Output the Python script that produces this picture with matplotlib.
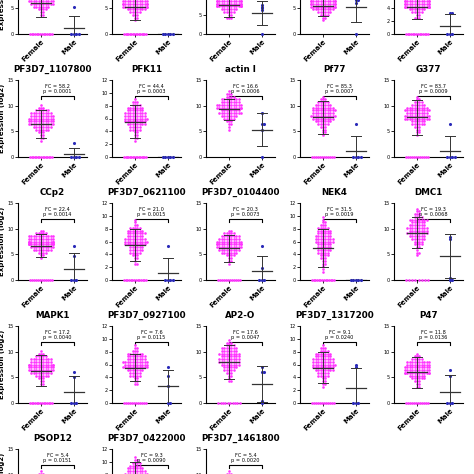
import numpy as np
import matplotlib.pyplot as plt

# panel info, row by row (top row is cut off in the source, no titles visible)
names = ['', '', '', '', '',
         'PF3D7_1107800', 'PFK11', 'actin I', 'Pf77', 'G377',
         'CCp2', 'PF3D7_0621100', 'PF3D7_0104400', 'NEK4', 'DMC1',
         'MAPK1', 'PF3D7_0927100', 'AP2-O', 'PF3D7_1317200', 'P47',
         'PSOP12', 'PF3D7_0422000', 'PF3D7_1461800']
ymax = [15, 15, 20, 15, 12,
        15, 12, 15, 15, 15,
        15, 12, 15, 12, 15,
        15, 12, 15, 12, 15,
        15, 12, 15]
fc = ['', '', '', '', '',
      '58.2', '44.4', '16.6', '85.3', '83.7',
      '22.4', '21.0', '20.3', '31.5', '19.3',
      '17.2', '7.6', '17.6', '9.1', '11.8',
      '5.4', '9.3', '5.4']
pval = ['', '', '', '', '',
        '0.0001', '0.0003', '0.0006', '0.0007', '0.0009',
        '0.0014', '0.0015', '0.0073', '0.0019', '0.0068',
        '0.0040', '0.0115', '0.0047', '0.0240', '0.0136',
        '0.0151', '0.0090', '0.0020']
# female mean / SD lines, centre and spread of the non-zero cloud, number of zeros
f_mean = [6.1, 5.3, 7.5, 5.5, 4.2, 6.4, 5.5, 9.3, 7.7, 7.7,
          6.7, 5.5, 6.2, 5.0, 9.2, 6.3, 5.5, 8.0, 5.5, 6.0, 7.0, 7.0, 7.0]
f_sd = [2.8, 2.6, 3.0, 2.0, 1.8, 2.7, 2.6, 2.0, 3.2, 3.4,
        2.3, 2.5, 2.6, 3.0, 3.0, 3.0, 2.1, 3.3, 2.4, 3.0, 3.0, 3.0, 3.0]
f_center = [6.8, 6.0, 8.0, 5.8, 4.8, 7.0, 6.0, 9.4, 8.3, 8.2,
            7.2, 6.0, 6.8, 5.8, 9.6, 7.0, 6.0, 8.5, 6.0, 6.5, 7.5, 7.5, 7.5]
f_spread = [1.6, 1.6, 2.0, 1.5, 1.2, 1.8, 1.7, 1.9, 2.0, 1.9,
            1.4, 1.8, 1.7, 2.2, 2.4, 1.7, 1.6, 2.2, 1.7, 1.7, 1.8, 1.8, 1.8]
f_zeros = [14, 16, 0, 0, 14, 15, 16, 0, 12, 12,
           12, 14, 12, 14, 8, 14, 12, 10, 12, 12, 12, 12, 12]
male = [[5.5, 0, 0, 0, 0], [0, 0, 0, 0, 0], [7.0, 6.5, 6.0, 7.5, 0], [6.5, 6.0, 6.6, 7.0, 0], [3.2, 3.2, 0, 0, 0],
        [2.7, 0, 0, 0, 0], [0, 0, 0, 0, 0], [8.5, 6.2, 6.4, 5.5, 0], [6.2, 0, 0, 0, 0], [6.2, 0, 0, 0, 0],
        [6.6, 4.8, 0, 0, 0], [5.3, 0, 0, 0, 0], [6.7, 2.2, 0, 0, 0], [0, 0, 0, 0, 0], [8.2, 8.0, 0.3, 0, 0],
        [6.1, 5.0, 0, 0, 0], [5.6, 4.3, 2.6, 0, 0], [7.0, 6.0, 6.0, 0.3, 0], [6.0, 5.6, 0, 0, 0], [6.2, 5.2, 0, 0, 0],
        [5.0, 0, 0, 0, 0], [5.0, 0, 0, 0, 0], [5.0, 0, 0, 0, 0]]
m_mean = [1.1, 0, 5.4, 5.3, 1.3, 0.5, 0, 5.3, 1.2, 1.2,
          2.2, 1.1, 1.8, 0, 4.7, 2.2, 2.6, 3.7, 2.3, 2.2, 1.0, 1.0, 1.0]
m_sd = [2.4, 0, 3.1, 3.0, 1.8, 1.2, 0, 3.2, 2.8, 2.8,
        3.1, 2.4, 2.9, 0, 4.3, 3.1, 2.6, 3.5, 3.1, 3.2, 2.2, 2.2, 2.2]

# shared shape of a female cloud (standard scores typed by eye)
z_shape = [-2.0, -1.7, -1.5, -1.3, -1.2, -1.1, -1.0, -0.9, -0.85, -0.8, -0.7, -0.65,
           -0.6, -0.5, -0.45, -0.4, -0.35, -0.3, -0.25, -0.2, -0.15, -0.1, -0.05, 0.0,
           0.0, 0.05, 0.1, 0.15, 0.2, 0.25, 0.3, 0.35, 0.4, 0.45, 0.5, 0.55, 0.6, 0.65,
           0.7, 0.75, 0.8, 0.85, 0.9, 0.95, 1.0, 1.05, 1.1, 1.2, 1.3, 1.4, 1.5, 1.6, 1.8,
           -1.8, -0.55, 0.3, 0.1, -0.2, 0.6, 1.0, -0.75, 0.45, 0.2, -0.35,
           -1.4, -0.95, -0.6, -0.3, 0.0, 0.35, 0.7, 1.15, -0.1, 0.5, 0.9, -0.5,
           0.25, -0.25, 0.8, 1.25, -1.05, 0.05, 0.4, -0.4]

FEM = '#ff33ff'
MAL = '#2a2ab8'
BAR = '#333333'


def swarm(vals, x0, binw, step, maxw):
    vals = np.asarray(vals, float)
    xs = np.zeros_like(vals)
    bins = np.round(vals / binw)
    for b in np.unique(bins):
        idx = np.where(bins == b)[0]
        for k, i in enumerate(idx):
            off = ((k + 1) // 2) * step * (1 if k % 2 else -1)
            xs[i] = x0 + np.clip(off, -maxw, maxw)
        vals[idx] = b * binw
    return xs, vals


fig = plt.figure(figsize=(4.74, 4.74), dpi=100)
W = H = 474.0

for i in range(len(names)):
    r, c = divmod(i, 5)
    left = 18 + 94 * c
    bottom_px = 34 + 123 * r
    ax = fig.add_axes([left / W, 1 - bottom_px / H, 69 / W, 77 / H])
    top = ymax[i]
    ax.set_xlim(-0.7, 1.4)
    ax.set_ylim(0, top)

    fv = f_center[i] + f_spread[i] * np.array(z_shape)
    fv = fv[(fv > 0.5) & (fv < top - 0.3)]
    fx, fv = swarm(fv, 0, top / 28, 0.075, 0.37)
    zx = np.linspace(-0.33, 0.33, f_zeros[i]) if f_zeros[i] else np.array([])
    ax.scatter(np.concatenate([fx, zx]), np.concatenate([fv, np.zeros(len(zx))]),
               s=3.5, color=FEM, lw=0, clip_on=False, zorder=3)
    mv = np.array(male[i])
    mx, _ = swarm(mv, 1, top / 45, 0.08, 0.3)
    ax.scatter(mx, mv, s=5, color=MAL, lw=0, clip_on=False, zorder=3)

    for x0, mu, sd in [(0, f_mean[i], f_sd[i]), (1, m_mean[i], m_sd[i])]:
        ax.plot([x0 - 0.3, x0 + 0.3], [mu, mu], color=BAR, lw=0.9, zorder=4)
        ax.plot([x0, x0], [max(mu - sd, 0), mu + sd], color=BAR, lw=0.7, zorder=4)
        ax.plot([x0 - 0.15, x0 + 0.15], [mu + sd] * 2, color=BAR, lw=0.7, zorder=4)
        if mu - sd > 0:
            ax.plot([x0 - 0.15, x0 + 0.15], [mu - sd] * 2, color=BAR, lw=0.7, zorder=4)

    if fc[i]:
        yb = top * 0.79
        ax.plot([0, 0, 1, 1], [yb - top * 0.04, yb, yb, yb - top * 0.04],
                color='black', lw=0.8, clip_on=False)
        ax.text(0.5, yb + top * 0.03, 'FC = %s\np = %s' % (fc[i], pval[i]),
                ha='center', va='bottom', fontsize=3.6, linespacing=1.0)
    if names[i]:
        ax.set_title(names[i], fontsize=6.3, fontweight='bold', pad=6)

    step = 5 if top == 15 else (2 if top == 12 else 5)
    ax.set_yticks(np.arange(0, top + 0.1, step))
    ax.tick_params(axis='y', labelsize=3.6, length=2, width=0.6, pad=1)
    ax.set_xticks([0, 1])
    ax.set_xticklabels(['Female', 'Male'], rotation=45, ha='right',
                       rotation_mode='anchor', fontsize=5, fontweight='bold')
    ax.tick_params(axis='x', length=2, width=0.6, pad=1)
    for s in ['top', 'right']:
        ax.spines[s].set_visible(False)
    for s in ['left', 'bottom']:
        ax.spines[s].set_linewidth(0.8)
    if c == 0:
        ax.set_ylabel('Expression (log2)', fontsize=5, fontweight='bold', labelpad=2)

fig.savefig('out.png', dpi=100)
